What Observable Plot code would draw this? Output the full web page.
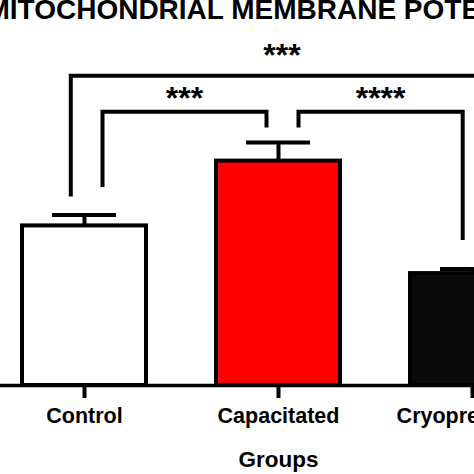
<!DOCTYPE html>
<html><head><meta charset="utf-8">
<script src="https://cdn.jsdelivr.net/npm/d3@7"></script>
<script src="https://cdn.jsdelivr.net/npm/@observablehq/plot@0.6"></script>
<style>
html,body{margin:0;padding:0;background:#fff;}
#chart{width:474px;height:474px;overflow:hidden;}
</style></head><body><div id="chart"></div>
<script>
const groups = ["Control", "Capacitated", "Cryopreserved"];
const means = [53.2, 74.8, 37.3];
const errors = [3.6, 6.2, 1.5];
const fills = ["#ffffff", "#ff0000", "#0a0a0a"];
const cmpFrom = ["Control", "Control", "Capacitated"];
const cmpTo = ["Cryopreserved", "Capacitated", "Cryopreserved"];
const cmpLabel = ["***", "***", "****"];
const cmpBarY = [103.1, 91.1, 91.1];
const cmpLegFromY = [62.8, 66, 85.8];
const cmpLegToY = [60, 85.8, 48.3];
const cmpLabelY = [106.3, 92, 92];
const titleText = "MITOCHONDRIAL MEMBRANE POTENTIAL";
const xLabel = "Groups";

const FONT = '"Liberation Sans", Arial, Helvetica, sans-serif';
const data = groups.map((g, i) => ({group: g, mean: means[i], err: errors[i], fill: fills[i]}));
const comps = cmpFrom.map((f, i) => ({from: f, to: cmpTo[i], label: cmpLabel[i], bar: cmpBarY[i], legFrom: cmpLegFromY[i], legTo: cmpLegToY[i], labelY: cmpLabelY[i]}));
// pixel offsets of bracket legs from band centres (styling)
const fromOff = [-13.2, 18.5, 20.5];
const toOff = [21, -11.5, -9.3];

function brackets(index, scales) {
  const x = scales.x, y = scales.y;
  const bw = x.bandwidth ? x.bandwidth() : 0;
  const g = d3.create("svg:g");
  comps.forEach((c, i) => {
    const x1 = x(c.from) + bw / 2 + fromOff[i];
    const x2 = x(c.to) + bw / 2 + toOff[i];
    const yb = y(c.bar);
    g.append("path")
      .attr("d", `M${x1},${y(c.legFrom)}V${yb}H${x2}V${y(c.legTo)}`)
      .attr("fill", "none").attr("stroke", "#000").attr("stroke-width", 4);
    g.append("text")
      .attr("x", (x1 + x2) / 2).attr("y", y(c.labelY))
      .attr("text-anchor", "middle")
      .attr("font-family", FONT).attr("font-weight", "bold").attr("font-size", 32)
      .attr("fill", "#000")
      .text(c.label);
  });
  return g.node();
}

const plot = Plot.plot({
  width: 474, height: 474,
  marginLeft: 0, marginRight: 0, marginTop: 0, marginBottom: 89,
  style: {fontFamily: FONT, background: "#fff", overflow: "hidden", color: "#000"},
  x: {domain: groups, range: [-48.7, 603.8], padding: 0.3634, label: null},
  y: {domain: [0, 100], range: [385, 85], axis: null},
  color: {type: "identity"},
  marks: [
    Plot.ruleX(data, {x: "group", y1: "mean", y2: d => d.mean + d.err, stroke: "#000", strokeWidth: 4}),
    Plot.tickY(data, {x: "group", y: d => d.mean + d.err, stroke: "#000", strokeWidth: 4, insetLeft: 30, insetRight: 30}),
    Plot.barY(data, {x: "group", y: "mean", fill: "fill", stroke: "#000", strokeWidth: 4}),
    Plot.ruleY([0], {stroke: "#000", strokeWidth: 3.5}),
    Plot.axisX({tickSize: 13, strokeWidth: 4, tickPadding: 9, fontSize: 21.5, fontWeight: "bold", fill: "#000", stroke: "#000", label: null}),
    Plot.text([xLabel], {x: () => "Capacitated", frameAnchor: "bottom", lineAnchor: "top", dy: 66, fontSize: 22.5, fontWeight: "bold", fill: "#000"}),
    Plot.text([titleText], {x: () => "Capacitated", frameAnchor: "top", lineAnchor: "top", dy: -1, dx: -4, fontSize: 28, fontWeight: "bold", fill: "#000"}),
    brackets
  ]
});
document.getElementById("chart").appendChild(plot);
</script>
</body></html>
